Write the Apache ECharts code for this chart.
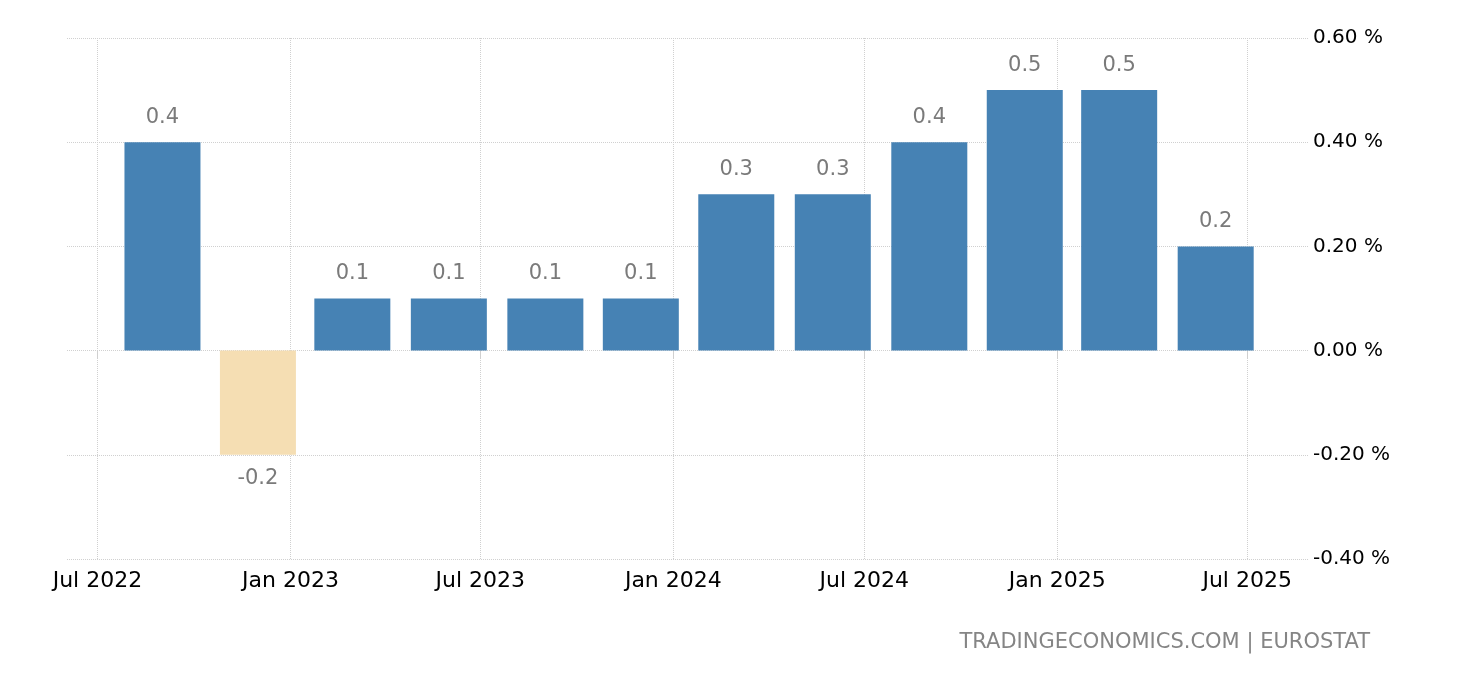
<!DOCTYPE html>
<html>
<head>
<meta charset="utf-8">
<script src="https://cdn.jsdelivr.net/npm/echarts@6/dist/echarts.min.js"></script>
<style>
html,body{margin:0;padding:0;background:#fff;}
#chart{width:1460px;height:680px;}
</style>
</head>
<body>
<div id="chart"></div>
<script>
// Quarter dates (bar positions) and values (%)
const periods = ['2022-09-01','2022-12-01','2023-03-01','2023-06-01','2023-09-01','2023-12-01',
                 '2024-03-01','2024-06-01','2024-09-01','2024-12-01','2025-03-01','2025-06-01'];
const values = [0.4, -0.2, 0.1, 0.1, 0.1, 0.1, 0.3, 0.3, 0.4, 0.5, 0.5, 0.2];
// X tick label dates
const xTickDates = ['2022-07-01','2023-01-01','2023-07-01','2024-01-01','2024-07-01','2025-01-01','2025-07-01'];
const monthNames = ['Jan','Feb','Mar','Apr','May','Jun','Jul','Aug','Sep','Oct','Nov','Dec'];
const xMin = '2022-06-02';
const xMax = '2025-08-28';
const yTicks = [-0.4, -0.2, 0, 0.2, 0.4, 0.6];

const ts = s => Date.parse(s);
const tickTs = xTickDates.map(ts);

const chart = echarts.init(document.getElementById('chart'), null, {renderer: 'canvas'});
const FONT = 'DejaVu Sans';

const seriesData = periods.map((p, i) => {
  const v = values[i];
  const item = {value: [ts(p), v]};
  if (v < 0) {
    item.itemStyle = {color: '#f5deb3'};
    item.label = {position: 'bottom', distance: 13};
  }
  return item;
});

const option = {
  animation: false,
  grid: {left: 67, right: 152, top: 38, bottom: 121, containLabel: false},
  xAxis: {
    type: 'value',
    min: ts(xMin),
    max: ts(xMax),
    axisLine: {show: false},
    axisTick: {show: true, length: 8, customValues: tickTs, lineStyle: {color: '#d0d0d0', width: 1}},
    splitLine: {show: false},
    axisLabel: {
      customValues: tickTs,
      margin: 11,
      color: '#000',
      fontFamily: FONT,
      fontSize: 22,
      formatter: function (val) {
        const d = new Date(val);
        return monthNames[d.getUTCMonth()] + ' ' + d.getUTCFullYear();
      }
    }
  },
  yAxis: {
    type: 'value',
    position: 'right',
    min: yTicks[0],
    max: yTicks[yTicks.length - 1],
    interval: 0.2,
    axisLine: {show: false},
    axisTick: {show: false},
    splitLine: {show: true, lineStyle: {color: '#d0d0d0', type: 'dotted', width: 1}},
    axisLabel: {
      margin: 5,
      color: '#000',
      fontFamily: FONT,
      fontSize: 20,
      formatter: v => v.toFixed(2) + ' %'
    }
  },
  series: [{
    type: 'bar',
    barWidth: 76,
    data: seriesData,
    itemStyle: {color: '#4682b4'},
    label: {
      show: true,
      position: 'top',
      distance: 14,
      color: '#7a7a7a',
      fontFamily: FONT,
      fontSize: 21,
      formatter: p => p.value[1].toFixed(1)
    },
    markLine: {
      silent: true,
      symbol: 'none',
      label: {show: false},
      lineStyle: {color: '#d0d0d0', type: 'dotted', width: 1},
      data: tickTs.map(t => ({xAxis: t})),
      z: 0
    },
    z: 2
  }],
  graphic: [{
    type: 'text',
    right: 90,
    top: 632,
    style: {
      text: 'TRADINGECONOMICS.COM | EUROSTAT',
      fill: '#858585',
      font: '21px "DejaVu Sans"'
    }
  }]
};
chart.setOption(option);
</script>
</body>
</html>
